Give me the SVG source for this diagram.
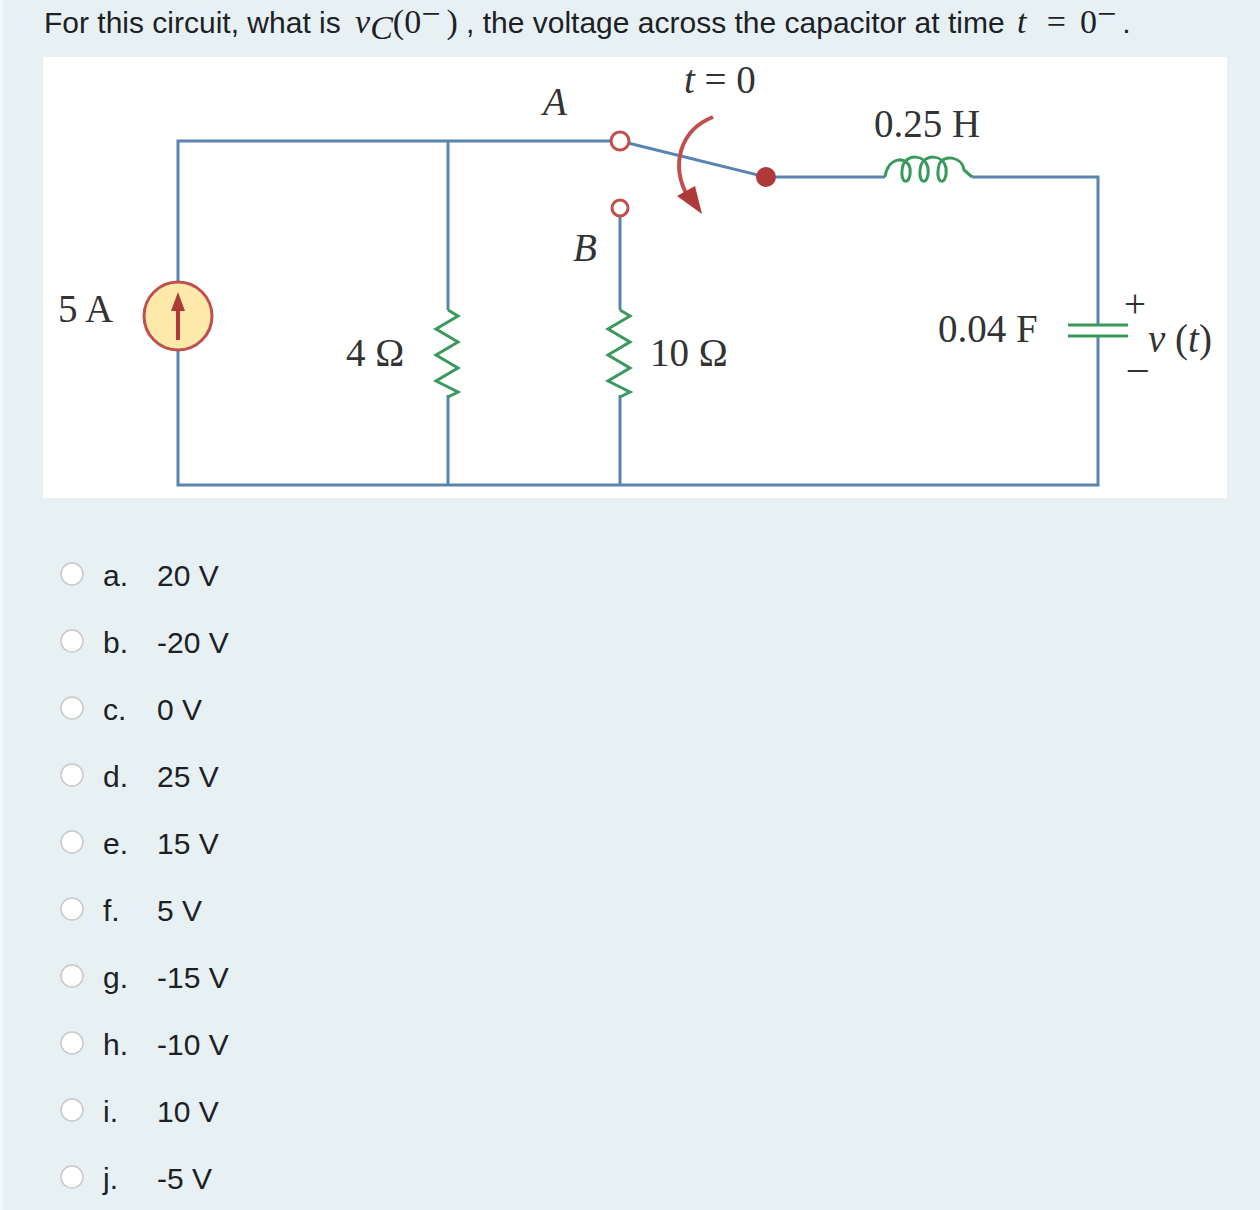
<svg xmlns="http://www.w3.org/2000/svg" width="1260" height="1210" viewBox="0 0 1260 1210">
<defs>
<style>
.w{fill:none;stroke:#5a84b0;stroke-width:3}
.g{fill:none;stroke:#3a9a5c;stroke-width:3}
.r{fill:#fff;stroke:#c0504d;stroke-width:3}
.lb{font-family:"Liberation Serif",serif;font-size:39px;fill:#333}
.it{font-style:italic}
.q{font-family:"Liberation Sans",Arial,sans-serif;font-size:30px;fill:#1d2125}
.m{font-family:"Liberation Serif",serif;font-size:34px}
.rb{fill:#fff;stroke:#c8c8c8;stroke-width:1.5}
</style>
</defs>
<rect width="1260" height="1210" fill="#e7f1f4"/>
<rect x="0" y="0" width="3" height="1210" fill="#f4f8fa"/>
<text class="q" x="44" y="33">For this circuit, what is <tspan class="m" font-style="italic" dx="6">v</tspan><tspan class="m" font-style="italic" font-size="24" dy="6">C</tspan><tspan class="m" dy="-6">(0</tspan><tspan class="m" font-size="22" dy="-8">−</tspan><tspan class="m" dy="8" dx="6">)</tspan> , the voltage across the capacitor at time <tspan class="m" font-style="italic" dx="4">t</tspan> <tspan class="m" dx="12">=</tspan><tspan class="m" dx="14">0</tspan><tspan class="m" font-size="22" dy="-8">−</tspan><tspan dy="8" dx="6">.</tspan></text>
<rect x="43" y="57" width="1184" height="441" fill="#fff"/>
<g id="connectors">
<path class="w" d="M612 141 H178 V485 H1098 V336 M1098 325 V177 H972 M885 177 H766"/>
<path class="w" d="M448 141 V310 M448 395 V485"/>
<path class="w" d="M620 216 V310 M620 395 V485"/>
<path class="w" d="M628 143 L766 177"/>
</g>
<g id="source">
<circle cx="178" cy="316" r="34" fill="#fde9a9" stroke="#c0504d" stroke-width="3"/>
<line x1="178" y1="340" x2="178" y2="305" stroke="#b03a3a" stroke-width="4"/>
<polygon points="178,292 171,311 185,311" fill="#b03a3a"/>
<text class="lb" x="58" y="322" font-size="36">5 A</text>
</g>
<g id="r4">
<polyline class="g" points="448,310 458,316 436,329 458,342 436,355 458,368 436,381 458,392 448,397"/>
<text class="lb" x="346" y="366" font-size="36">4 Ω</text>
</g>
<g id="r10">
<polyline class="g" points="620,310 630,316 608,329 630,342 608,355 630,368 608,381 630,392 620,397"/>
<text class="lb" x="650" y="366" font-size="36">10 Ω</text>
</g>
<g id="switch">
<circle class="r" cx="620" cy="141" r="9"/>
<circle class="r" cx="620" cy="208" r="8"/>
<circle cx="766" cy="177" r="10" fill="#b03a3a"/>
<path d="M713 117 C680 130 670 165 688 197" fill="none" stroke="#c0504d" stroke-width="4"/>
<polygon points="702,214 677,196 695,186" fill="#b03a3a"/>
<text class="lb it" x="543" y="115">A</text>
<text class="lb it" x="573" y="261">B</text>
<text class="lb" x="684" y="93"><tspan font-style="italic">t</tspan> = 0</text>
</g>
<g id="inductor">
<path class="g" d="M885 177 C888 156 907 156 910 168 C912 186 898 186 903 165 C907 154 925 154 928 168 C930 186 916 186 921 165 C925 154 943 154 946 168 C948 186 934 186 939 165 C943 154 962 156 964 170 L972 177"/>
<text class="lb" x="874" y="137">0.25 H</text>
</g>
<g id="capacitor">
<line class="g" x1="1068" y1="325" x2="1128" y2="325"/>
<line class="g" x1="1068" y1="336" x2="1128" y2="336"/>
<text class="lb" x="938" y="342">0.04 F</text>
<text class="lb" x="1124" y="317" font-size="32">+</text>
<text class="lb" x="1148" y="352" font-size="32"><tspan font-style="italic">v</tspan> (<tspan font-style="italic">t</tspan>)</text>
<text class="lb" x="1128" y="380" font-size="32">–</text>
</g>
<g id="options">
<circle class="rb" cx="72" cy="574" r="11"/><text class="q" x="103" y="586">a.</text><text class="q" x="157" y="586">20 V</text>
<circle class="rb" cx="72" cy="641" r="11"/><text class="q" x="103" y="653">b.</text><text class="q" x="157" y="653">-20 V</text>
<circle class="rb" cx="72" cy="708" r="11"/><text class="q" x="103" y="720">c.</text><text class="q" x="157" y="720">0 V</text>
<circle class="rb" cx="72" cy="775" r="11"/><text class="q" x="103" y="787">d.</text><text class="q" x="157" y="787">25 V</text>
<circle class="rb" cx="72" cy="842" r="11"/><text class="q" x="103" y="854">e.</text><text class="q" x="157" y="854">15 V</text>
<circle class="rb" cx="72" cy="909" r="11"/><text class="q" x="103" y="921">f.</text><text class="q" x="157" y="921">5 V</text>
<circle class="rb" cx="72" cy="976" r="11"/><text class="q" x="103" y="988">g.</text><text class="q" x="157" y="988">-15 V</text>
<circle class="rb" cx="72" cy="1043" r="11"/><text class="q" x="103" y="1055">h.</text><text class="q" x="157" y="1055">-10 V</text>
<circle class="rb" cx="72" cy="1110" r="11"/><text class="q" x="103" y="1122">i.</text><text class="q" x="157" y="1122">10 V</text>
<circle class="rb" cx="72" cy="1177" r="11"/><text class="q" x="103" y="1189">j.</text><text class="q" x="157" y="1189">-5 V</text>
</g>
</svg>
